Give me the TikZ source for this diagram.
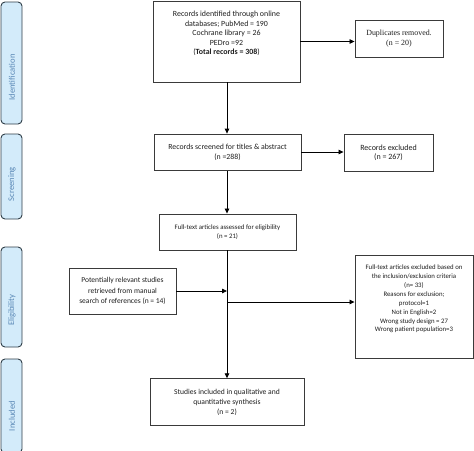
\documentclass[tikz,border=0pt]{standalone}
\usepackage{fontspec}
\setmainfont{Carlito}
\newfontfamily\serifdup{Liberation Serif}
\usetikzlibrary{arrows.meta}
\definecolor{sidefill}{HTML}{D3EBFA}
\definecolor{sidedraw}{HTML}{2F3E48}
\definecolor{sidetext}{HTML}{5A88B6}
\definecolor{boxdraw}{HTML}{3A3A3A}
\definecolor{txtcol}{HTML}{1E1E1E}
\begin{document}
\begin{tikzpicture}[x=1pt,y=-1pt,
  box/.style={draw=boxdraw, line width=0.9pt, fill=white, inner sep=0pt, align=center, text=txtcol},
  side/.style={draw=sidedraw, line width=0.9pt, fill=sidefill, rounded corners=4pt, inner sep=0pt},
  sidelab/.style={rotate=90, text=sidetext, font=\fontsize{8.6}{10}\selectfont},
  conn/.style={draw=black, line width=0.8pt},
  arr/.style={conn, -{Triangle[length=5pt,width=4.5pt]}}]
\useasboundingbox (0,0) rectangle (474,450);
% side labels
\node[side, minimum width=21pt, minimum height=122pt] (sId) at (11.5,63) {};
\node[sidelab] (sIdT) at (12,77.5) {Identification};
\node[side, minimum width=21pt, minimum height=85pt] (sSc) at (11.5,176.5) {};
\node[sidelab] (sScT) at (12,184) {Screening};
\node[side, minimum width=21pt, minimum height=100pt] (sEl) at (11.5,297) {};
\node[sidelab] (sElT) at (12,310) {Eligibility};
\node[side, minimum width=21pt, minimum height=94pt] (sIn) at (11.5,406) {};
\node[sidelab] (sInT) at (12,416) {Included};
% main boxes
\node[box] (ident) at (226.5,41.5) {\parbox[c][81pt][c]{147pt}{\centering\fontsize{7.9}{9.5}\selectfont
  Records identified through online\\ databases; PubMed = 190\\ Cochrane library = 26\\ PEDro =92\\ (\textbf{Total records = 308})\par\vspace{16pt}}};
\node[box, minimum width=88pt, minimum height=37pt, font=\serifdup\fontsize{7.9}{9.4}\selectfont] (dup) at (399,38.5) {Duplicates removed.\\ (n = 20)};
\node[box, minimum width=147pt, minimum height=36.5pt, font=\fontsize{7.8}{9.3}\selectfont] (screen) at (227.5,152.3) {Records screened for titles \& abstract\\ (n =288)};
\node[box, minimum width=89pt, minimum height=37pt, font=\fontsize{8}{9.3}\selectfont] (excl) at (388.5,152.5) {Records excluded\\ (n = 267)};
\node[box, minimum width=137pt, minimum height=36pt, font=\fontsize{6.8}{9.3}\selectfont] (full) at (227.5,232) {Full-text articles assessed for eligibility\\ (n = 21)};
\node[box, minimum width=107pt, minimum height=46pt, font=\fontsize{7.5}{10.6}\selectfont] (pot) at (122.5,291) {Potentially relevant studies\\ retrieved from manual\\ search of references (n = 14)};
\node[box] (ftex) at (414,307) {\parbox[c][103.5pt][c]{118pt}{\centering\fontsize{6.8}{8.9}\selectfont
  Full-text articles excluded based on\\ the inclusion/exclusion criteria\\ (n= 33)\\ Reasons for exclusion;\\ protocol=1\\ Not in English=2\\ Wrong study design = 27\\ Wrong patient population=3\par\vspace{16pt}}};
\node[box, minimum width=154pt, minimum height=46.5pt, font=\fontsize{7.6}{9.9}\selectfont] (incl) at (227,402) {Studies included in qualitative and\\ quantitative synthesis\\ (n = 2)};
% connectors
\coordinate (jPot) at (227,291);
\coordinate (jEx) at (227,302);
\draw[arr] (ident.south -| 227,0) -- (screen.north -| 227,0);
\draw[arr] (ident.east) -- (ident.east -| dup.west);
\draw[arr] (screen.east |- 0,152) -- (excl.west |- 0,152);
\draw[arr] (screen.south -| 227,0) -- (full.north -| 227,0);
\draw[arr] (full.south -| 227,0) -- (incl.north -| 227,0);
\draw[arr] (pot.east) -- (jPot);
\draw[arr] (jEx) -- (jEx -| ftex.west);
\end{tikzpicture}
\end{document}
